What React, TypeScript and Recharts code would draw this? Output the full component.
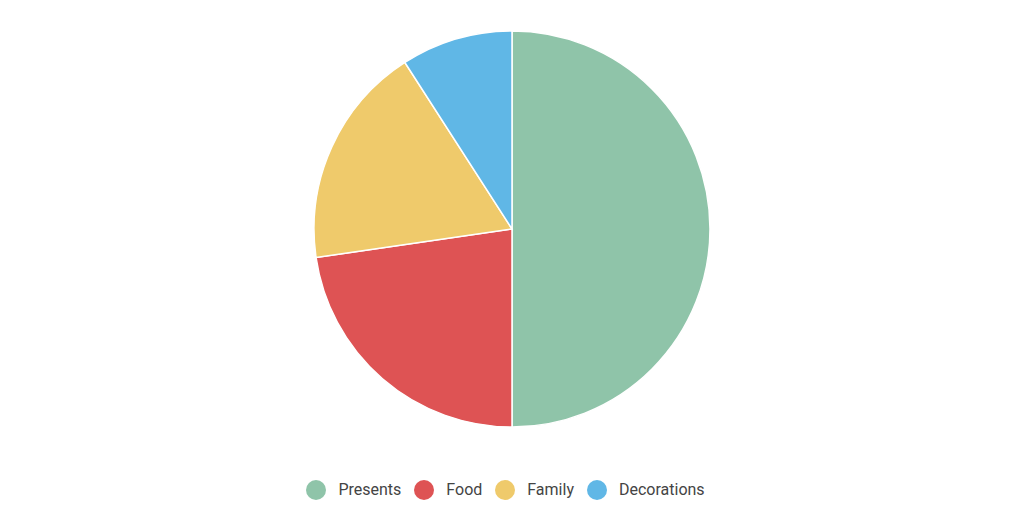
import React from "react";
import { PieChart, Pie, Cell } from "recharts";

const CATEGORIES = ["Presents", "Food", "Family", "Decorations"];
const VALUES = [50, 22.7, 18.2, 9.1];
const COLORS = ["#8fc4a9", "#de5354", "#efca6b", "#60b7e6"];

const data = CATEGORIES.map((name, i) => ({ name, value: VALUES[i] }));

const LegendRow = () => (
  <div
    style={{
      position: "absolute",
      top: 480,
      left: 0,
      width: 1024,
      display: "flex",
      justifyContent: "center",
      alignItems: "center",
      boxSizing: "border-box",
      fontFamily: "Roboto, sans-serif",
      fontSize: 16,
      lineHeight: "20px",
      color: "#444",
    }}
  >
    {CATEGORIES.map((name, i) => (
      <div
        key={name}
        style={{ display: "flex", alignItems: "center", marginRight: 13 }}
      >
        <span
          style={{
            display: "inline-block",
            width: 20,
            height: 20,
            borderRadius: "50%",
            background: COLORS[i],
            marginRight: 12,
          }}
        />
        <span>{name}</span>
      </div>
    ))}
  </div>
);

export default function App() {
  return (
    <div
      style={{
        margin: -8,
        width: 1024,
        height: 512,
        background: "#fff",
        position: "relative",
      }}
    >
      <PieChart width={1024} height={512} margin={{ top: 0, right: 0, bottom: 0, left: 0 }}>
        <Pie
          data={data}
          dataKey="value"
          nameKey="name"
          cx={512}
          cy={229}
          outerRadius={198}
          startAngle={90}
          endAngle={-270}
          stroke="#fff"
          strokeWidth={1.5}
          isAnimationActive={false}
        >
          {data.map((d, i) => (
            <Cell key={d.name} fill={COLORS[i]} />
          ))}
        </Pie>
      </PieChart>
      <LegendRow />
    </div>
  );
}
